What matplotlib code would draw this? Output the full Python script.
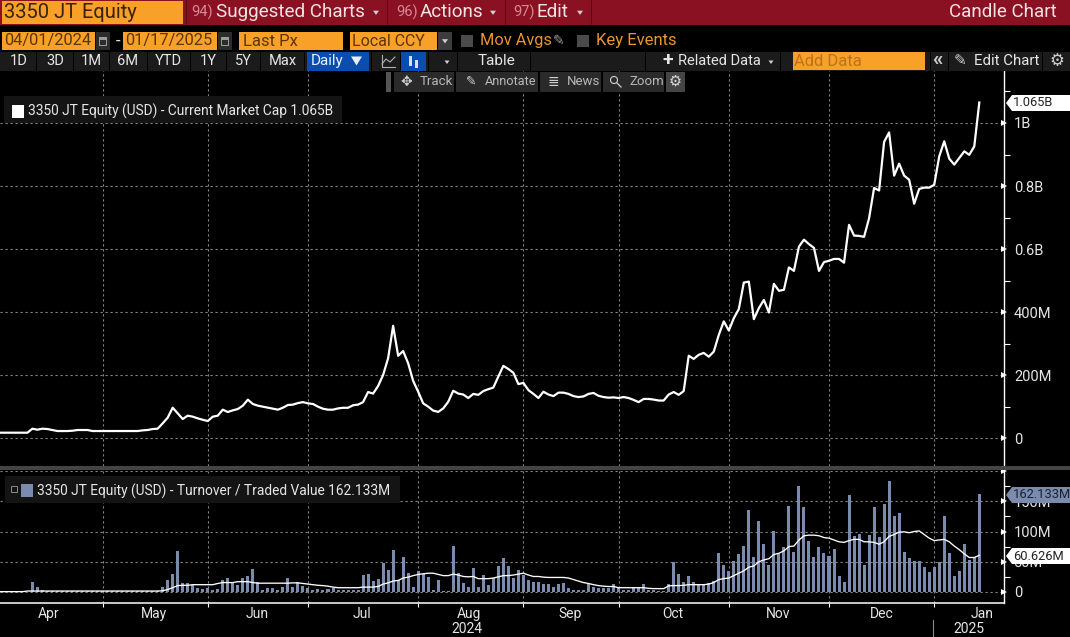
import matplotlib
matplotlib.use('Agg')
import matplotlib.pyplot as plt
from matplotlib.patches import Rectangle, Polygon, Circle
from matplotlib.ticker import FixedLocator, FixedFormatter
import numpy as np

plt.rcParams['font.family'] = ['Roboto', 'DejaVu Sans']

# market cap, USD millions, one value per trading day
market_cap = [18, 18, 18, 18, 18, 18, 18, 30.7, 27.5, 30.7, 29.6, 26.5, 23.3, 23.3, 23.3, 24.3, 26.5, 26.5, 26.5, 23.3,
              23.3, 23.3, 23.3, 23.3, 23.3, 23.3, 23.3, 23.3, 23.3, 25.4, 26.5, 29.6, 30.7, 47.6, 65.6, 97.3, 79.4, 61.4, 72, 68.8,
              63.5, 59, 55, 68.8, 72, 91, 83.6, 88.9, 93, 103.7, 122.7, 109, 103.7, 100.5, 97.3, 94, 91, 97.3, 105.8, 107,
              112, 115, 111, 109, 100.5, 94, 91, 91, 95, 97, 97, 105, 107, 115, 147, 142, 166, 201, 254, 357,
              262, 277, 238, 182, 148, 111, 100.5, 88, 84, 95, 116, 151, 142, 139, 128, 141, 138, 150, 156, 161,
              196, 230, 220, 208, 172, 176, 153, 141, 128, 148, 139, 134, 145, 145, 141, 134, 131, 133, 141, 144,
              135, 131, 129, 130, 128, 131, 128, 122, 115, 125, 125, 123, 120, 120, 139, 147, 138, 150,
              262, 252, 265, 271, 259, 275, 328, 371, 342, 381, 410, 494, 497, 378, 413, 439, 399, 490, 468, 471,
              542, 531, 608, 630, 616, 604, 531, 559, 563, 569, 569, 557, 677, 643, 642, 639, 698, 794, 786, 940,
              970, 833, 871, 833, 820, 744, 791, 795, 795, 804, 894, 942, 887, 868, 889, 910, 899, 926, 1065]

# traded value, USD millions
turnover = [0, 0, 0, 0, 0, 0, 0, 16, 8, 4, 1.5, 1, 1, 1, 1, 1, 1, 1, 1, 1,
            1, 1, 1, 1, 1, 1, 1, 1, 1, 1, 1, 2, 1, 8, 20, 29, 68, 14, 14, 11,
            7, 5, 6, 3, 5, 19, 23, 16, 11, 23, 26, 38, 16, 4, 7, 6, 4, 9, 23, 8,
            16, 10, 7, 4, 5, 4, 5, 7, 3, 3, 4, 3, 4, 28, 29, 18, 21, 48, 36, 70,
            19, 58, 32, 9, 34, 29, 24, 3, 19, 1, 1, 76, 31, 14, 8, 40, 9, 28, 11, 23,
            43, 56, 43, 23, 36, 28, 19, 16, 16, 13, 13, 8, 13, 14, 6, 4, 4, 4, 13, 8,
            6, 6, 6, 13, 6, 4, 4, 6, 6, 13, 4, 3, 2, 2, 13, 50, 29, 16, 26, 16,
            13, 13, 14, 18, 64, 44, 34, 51, 63, 76, 136, 58, 118, 80, 44, 101, 63, 75, 143, 66,
            176, 140, 85, 58, 75, 64, 59, 71, 26, 16, 160, 93, 96, 44, 95, 140, 91, 145, 183, 126,
            130, 66, 56, 51, 51, 41, 33, 41, 49, 125, 64, 26, 34, 80, 53, 58, 162.133]

# moving average of the traded value
turnover_avg = [0.5, 0.5, 0.5, 0.5, 0.5, 0.5, 1.5, 1.5, 1.5, 1.5, 1.5, 1.5, 1.5, 1.5, 1.5, 1.5, 1.5, 1.5, 1.5, 1.5,
                1.5, 1.5, 1.5, 1.5, 1.5, 1.5, 1.5, 1.5, 1.5, 1.5, 1.5, 1.5, 1.5, 2, 4, 7, 10.5, 11, 11, 12,
                12, 12, 12, 12, 14, 15.5, 15.5, 15.5, 17, 17, 17, 15.5, 14.5, 14.5, 14.5, 14.5, 14.5, 14.5, 14.5, 15,
                15, 14, 13, 12, 11, 10.5, 9.5, 8, 7, 7, 7, 7, 7, 8, 8, 8, 9, 13, 15, 18,
                19, 23, 24.5, 27, 29, 30, 31, 31, 29, 27, 27, 29.5, 28, 25.6, 25, 25.6, 22, 22, 22, 23,
                25, 27, 27, 28, 29.5, 31, 28, 25.6, 25.6, 24.5, 24, 24, 24, 24, 23, 20.5, 18, 15.5, 14, 12,
                10.5, 9.5, 9, 9, 7, 7, 7, 7, 7, 7, 6, 5.5, 5.5, 5.5, 10, 10.5, 10.5, 11, 12, 12,
                12, 12, 13, 15.5, 20.5, 22, 23, 27, 31, 35, 41, 43, 50, 53, 55, 62, 64, 68, 75, 76,
                86, 93, 94, 94, 93, 90, 89, 86, 83, 82, 85, 87, 87, 83, 83, 82, 79, 83, 92, 95,
                99, 99.5, 98, 100, 101, 95, 89, 85, 86, 87, 83, 76, 70, 63, 57, 57, 60.626]

assert len(market_cap) == len(turnover) == len(turnover_avg) == 197

month_starts = [21, 42, 62, 84, 105, 124, 146, 166, 187]
month_names = ['Apr', 'May', 'Jun', 'Jul', 'Aug', 'Sep', 'Oct', 'Nov', 'Dec', 'Jan']
month_label_pos = [10.3, 31.3, 51.8, 72.8, 94.2, 114.3, 134.8, 155.8, 176.6, 196.6]
price_ticks = [0, 200, 400, 600, 800, 1000]
price_tick_labels = ['0', '200M', '400M', '0.6B', '0.8B', '1B']
vol_ticks = [0, 50, 100, 150, 200]
vol_tick_labels = ['0', '50M', '100M', '150M', '']

W, H = 1070, 637
GRID = '#858585'
ORANGE = '#f9a029'
RED = '#8a1122'
BAR = '#7b8bae'
TXT = '#e6e6e6'

fig = plt.figure(figsize=(W / 100, H / 100), dpi=100, facecolor='black')


def px_axes(x0, y0, x1, y1, **kw):
    return fig.add_axes([x0 / W, 1 - y1 / H, (x1 - x0) / W, (y1 - y0) / H], **kw)


AXR = 1004.3
days = np.arange(len(market_cap))
xlim = (2.66 / 5.01, (AXR + 2.66) / 5.01)

ax = px_axes(0, 70, AXR, 465.5, facecolor='black')
ax2 = px_axes(0, 470.5, AXR, 603.3, facecolor='black')

ax.plot(days, market_cap, color='white', lw=1.6, solid_joinstyle='round', zorder=3)
ax.set_ylim(-86, 1168)

ax2.bar(days, turnover, width=0.6, color=BAR, zorder=2)
ax2.plot(days, turnover_avg, color='white', lw=0.95, zorder=3)
ax2.set_ylim(-18.8, 201)

for a, ticks, labels, minor in [(ax, price_ticks, price_tick_labels, 100), (ax2, vol_ticks, vol_tick_labels, 25)]:
    a.set_xlim(*xlim)
    a.yaxis.tick_right()
    a.yaxis.set_major_locator(FixedLocator(ticks))
    a.yaxis.set_major_formatter(FixedFormatter(labels))
    lo, hi = a.get_ylim()
    a.yaxis.set_minor_locator(FixedLocator(np.arange(-minor * 8, hi, minor)))
    a.tick_params(axis='y', which='major', length=6, width=0, pad=1, labelsize=10.5, labelcolor=TXT)
    a.tick_params(axis='y', which='minor', length=4, width=0.8, color='white')
    a.set_xticks(month_starts)
    a.grid(True, axis='both', which='major', color=GRID, lw=0.8, ls=(0, (2, 2.5)), zorder=1)
    a.plot([1.0] * len(ticks), ticks, ls='none', marker='>', ms=5, color='white', mew=0,
           transform=a.get_yaxis_transform(), clip_on=False, zorder=5)
    for s in ['top', 'left']:
        a.spines[s].set_visible(False)
    a.spines['right'].set_color('white')
    a.spines['right'].set_linewidth(1)

ax.spines['bottom'].set_visible(False)
ax.tick_params(axis='x', length=0, labelbottom=False)
ax2.spines['bottom'].set_color('white')
ax2.spines['bottom'].set_linewidth(1.1)
ax2.tick_params(axis='x', length=3, width=0.8, color='white', labelbottom=False)

for name, pos in zip(month_names, month_label_pos):
    ax2.annotate(name, (pos, 0), xycoords=('data', 'axes fraction'), xytext=(0, -8), textcoords='offset points',
                 ha='center', va='center', color=TXT, fontsize=10)
for year, pos in [('2024', 93.7), ('2025', 194)]:
    ax2.annotate(year, (pos, 0), xycoords=('data', 'axes fraction'), xytext=(0, -18.5), textcoords='offset points',
                 ha='center', va='center', color=TXT, fontsize=10)

# terminal chrome, laid out in pixels on top of the chart
ui = fig.add_axes([0, 0, 1, 1], facecolor='none', zorder=10)
ui.set_xlim(0, W)
ui.set_ylim(H, 0)
ui.axis('off')


def box(x0, y0, x1, y1, color, **kw):
    ui.add_patch(Rectangle((x0, y0), x1 - x0, y1 - y0, facecolor=color, edgecolor='none', **kw))


def label(x, y, s, size, color=TXT, ha='left', **kw):
    ui.text(x, y, s, fontsize=size, color=color, ha=ha, va='center', **kw)


def arrow(x, y, color='#d0d0d0', s=3):
    ui.add_patch(Polygon([(x - s, y - s * 0.6), (x + s, y - s * 0.6), (x, y + s * 0.8)], facecolor=color, edgecolor='none'))


# title bar
box(0, 0, W, 24.5, RED)
box(2, 1, 183, 24, ORANGE)
label(4, 12.5, '3350 JT Equity', 14.5, color='#3a2206')
for x in [186, 387, 505, 591]:
    box(x - 0.5, 0, x + 0.7, 24.5, '#5e0a16')
for x, num, x2, name, ax3 in [(191, '94)', 216, 'Suggested Charts', 376),
                              (396, '96)', 420, 'Actions', 493),
                              (513, '97)', 537, 'Edit', 580)]:
    label(x, 12, num, 10.5, color='#d98a94')
    label(x2, 12, name, 13.6, color='#f2e3e3')
    arrow(ax3, 12.5)
label(1057, 12, 'Candle Chart', 13.5, color='#f2e3e3', ha='right')

# date row
for x0, x1, s in [(2, 95, '04/01/2024'), (123, 217, '01/17/2025')]:
    box(x0, 32, x1, 50, ORANGE)
    label(x0 + 2, 41, s, 11.8, color='#5a3508')
    box(x1 + 1, 32, x1 + 15, 50, '#2c2c2c')
    box(x1 + 4, 37, x1 + 12, 46, '#9a9a9a')
    box(x1 + 5, 39.5, x1 + 11, 45, '#2c2c2c')
label(118, 41, '-', 12, ha='center')
box(239, 32, 343, 50, ORANGE)
label(243, 41, 'Last Px', 12, color='#5a3508')
box(350, 32, 437, 50, ORANGE)
label(352, 41, 'Local CCY', 11.5, color='#5a3508')
box(438, 32, 452, 50, '#3c3c3c')
arrow(445, 41)
for x in [461, 577]:
    box(x, 35, x + 12, 47, '#4a4a4a')
label(480, 41, 'Mov Avgs', 11.8, color='#e8962e')
label(559, 41, '\u270e', 10, color='#a0a0a0', ha='center', family='DejaVu Sans')
label(596, 41, 'Key Events', 12, color='#e8962e')

# range buttons
box(0, 52, 1070, 71, '#1b1b1b')
for x in [36, 73, 109, 147, 190, 226, 260, 304, 371, 400, 428, 457, 530, 645, 780, 930, 948, 1042]:
    box(x, 52, x + 1.2, 71, '#000000')
for x, s in [(19, '1D'), (55, '3D'), (91, '1M'), (128, '6M'), (168, 'YTD'), (208, '1Y'), (243, '5Y'), (283, 'Max')]:
    label(x, 61, s, 10.5, ha='center')
box(307, 52, 369, 71, '#0a4db0')
label(311, 61, 'Daily', 11, color='#e8effa')
ui.add_patch(Polygon([(351, 56.5), (362, 56.5), (356.5, 65.5)], facecolor='#e8effa', edgecolor='none'))
ui.plot([382, 382, 395], [55, 67, 67], color='#b0b0b0', lw=0.8)
ui.plot([382, 386, 390, 395], [64, 59, 62, 57], color='#b0b0b0', lw=0.8)
box(401, 52, 426, 71, '#0a4db0')
box(409, 56, 412, 66, '#d5e0f2')
box(415, 60, 418, 68, '#d5e0f2')
arrow(447, 62, s=2.5)
label(496, 61, 'Table', 11, ha='center')
label(668, 60.5, '+', 14, ha='center', fontweight='bold')
label(678, 61, 'Related Data', 10.5)
arrow(771, 62, s=2.5)
box(793, 52, 925, 70, ORANGE)
label(794, 61, 'Add Data', 12, color='#b9741b')
label(937, 60, '\u00ab', 15, ha='center', fontweight='bold', color='#cfcfcf')
label(960, 61, '\u270e', 11, ha='center', color='#cfcfcf', family='DejaVu Sans')
label(974, 61, 'Edit Chart', 10.8)
label(1057, 60.5, '\u2699', 12, ha='center', color='#cfcfcf', family='DejaVu Sans')

# chart tool buttons
box(386, 72, 391, 92, '#555555')
box(394, 72, 454, 92, '#2a2a2a')
box(456, 72, 538, 92, '#2a2a2a')
box(540, 72, 601, 92, '#2a2a2a')
box(603, 72, 664, 92, '#2a2a2a')
box(666, 72, 685, 92, '#454545')
label(406, 81.5, '\u2725', 10, ha='center', color='#d0d0d0', family='DejaVu Sans')
label(420, 81.5, 'Track', 9.5, color='#b8b8b8')
label(471, 81.5, '\u270e', 9, ha='center', color='#d0d0d0', family='DejaVu Sans')
label(485, 81.5, 'Annotate', 9.2, color='#b8b8b8')
label(553, 81.5, '\u2263', 10, ha='center', color='#d0d0d0', family='DejaVu Sans')
label(567, 81.5, 'News', 9.5, color='#b8b8b8')
ui.add_patch(Circle((614, 80), 3.5, facecolor='none', edgecolor='#d0d0d0', lw=0.8))
ui.plot([617, 621], [83, 87], color='#d0d0d0', lw=0.9)
label(629, 81.5, 'Zoom', 9.5, color='#b8b8b8')
label(675.5, 81.5, '\u2699', 10.5, ha='center', color='#d8d8d8', family='DejaVu Sans')

# legends
box(4, 96, 342, 123, '#141414')
box(12, 105, 24, 118, 'white')
label(28, 111.5, '3350 JT Equity (USD) - Current Market Cap 1.065B', 9.9)
box(5, 476, 400, 503, '#141414')
ui.add_patch(Rectangle((11, 486), 6, 6, facecolor='none', edgecolor='#8a8a8a', lw=0.7))
box(21, 484, 33, 497, BAR)
label(37, 491, '3350 JT Equity (USD) - Turnover / Traded Value 162.133M', 9.9)

# pane divider
box(0, 466, AXR + 66, 470, '#444444')
box(528, 466.5, 542, 467.3, '#b0b0b0')
box(528, 468.5, 542, 469.3, '#b0b0b0')

# last value tags
for y, s, bg, fg in [(103, '1.065B', 'white', '#222222'),
                     (495, '162.133M', BAR, '#1a2235'),
                     (556, '60.626M', 'white', '#222222')]:
    ui.add_patch(Polygon([(1006, y), (1012, y - 8), (1070, y - 8), (1070, y + 8), (1012, y + 8)], facecolor=bg, edgecolor='none'))
    label(1013, y, s, 9.3, color=fg)

# year separator
ui.plot([933.3, 933.3], [620, 637], color='#8a8a8a', lw=0.8)

fig.savefig('out.png', dpi=100, facecolor='black')
